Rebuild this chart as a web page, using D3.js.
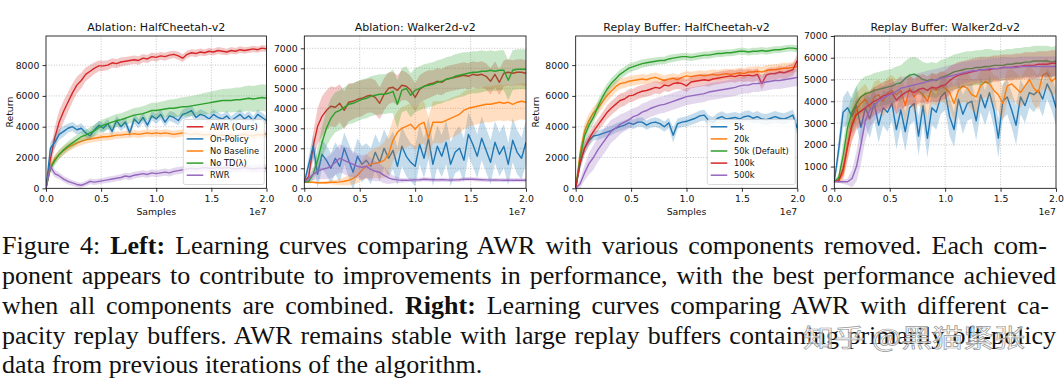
<!DOCTYPE html>
<html><head><meta charset="utf-8">
<script src="https://cdn.jsdelivr.net/npm/d3@7"></script>
<style>body{margin:0;background:#fff}svg{display:block}</style>
</head><body><svg id="c" width="1064" height="381"></svg>
<script>
// x positions in units of 1e7 samples
const samples = [0,0.04,0.08,0.12,0.16,0.2,0.24,0.28,0.32,0.36,0.4,0.44,0.48,0.52,0.56,0.6,0.64,0.68,0.72,0.76,0.8,0.84,0.88,0.92,0.96,1.0,1.04,1.08,1.12,1.16,1.2,1.24,1.28,1.32,1.36,1.4,1.44,1.48,1.52,1.56,1.6,1.64,1.68,1.72,1.76,1.8,1.84,1.88,1.92,1.96,2.0];
const xTickVals = [0, 0.5, 1.0, 1.5, 2.0];
const hcYTicks = [0, 2000, 4000, 6000, 8000];
const wkYTicks = [0, 1000, 2000, 3000, 4000, 5000, 6000, 7000];
const ablLabels = ['AWR (Ours)', 'On-Policy', 'No Baseline', 'No TD(\u03bb)', 'RWR'];
const rbLabels = ['5k', '20k', '50k (Default)', '100k', '500k'];
const titles = ['Ablation: HalfCheetah-v2', 'Ablation: Walker2d-v2', 'Replay Buffer: HalfCheetah-v2', 'Replay Buffer: Walker2d-v2'];

// ---- Ablation: HalfCheetah ----
const hcAblAWR = [0,1900,3300,4300,5000,5600,6200,6700,7000,7400,7600,7800,7950,7950,8000,8150,8100,8200,8250,8300,8350,8300,8450,8400,8550,8500,8600,8550,8650,8700,8600,8450,8700,8800,8750,8850,8800,8900,8850,8950,8900,8850,8950,8900,9000,8950,9000,9050,9000,9100,9050];
const hcAblAWRsd = [0,500,700,750,700,650,600,550,500,450,400,380,350,330,320,300,300,290,280,280,270,280,270,260,270,260,250,260,250,240,260,250,240,230,240,230,220,230,220,230,220,210,220,210,220,210,200,210,200,210,200];
const hcAblOnP = [0,2600,3000,3500,3700,3900,4000,3800,3900,3600,3400,3800,4100,3900,4200,3700,4400,4000,4300,3600,4500,4200,4600,4100,4700,4500,4800,4300,4700,4600,4400,4800,4900,5050,4600,4800,4700,4500,4800,4600,4500,4700,4400,4600,4800,4500,4700,4400,4800,4600,4400];
const hcAblOnPsd = [0,400,400,350,350,300,300,300,320,300,300,320,300,320,300,300,320,300,330,300,320,300,340,320,300,320,330,300,320,340,300,320,330,350,320,330,300,320,330,300,310,320,300,320,330,310,320,300,320,310,300];
const hcAblNoB = [0,1400,1900,2200,2450,2650,2800,2950,3050,3150,3200,3250,3300,3350,3350,3400,3450,3450,3500,3500,3550,3500,3550,3600,3550,3600,3550,3600,3550,3500,3550,3600,3550,3500,3550,3500,3450,3500,3450,3400,3450,3400,3450,3400,3450,3500,3450,3400,3500,3450,3550];
const hcAblNoBsd = [0,300,300,280,280,270,260,260,250,250,250,240,250,240,240,250,240,230,240,230,240,230,240,230,230,240,230,240,230,230,240,230,240,230,240,230,240,230,240,230,240,230,240,230,240,230,240,230,240,230,240];
const hcAblNoTD = [0,1300,1800,2200,2500,2750,2950,3150,3350,3450,3600,3750,3950,4100,4200,4300,4400,4450,4550,4650,4750,4800,4850,4950,5050,5050,5100,5150,5200,5200,5250,5300,5300,5350,5400,5450,5500,5550,5600,5650,5700,5700,5700,5750,5750,5800,5850,5800,5850,5900,5850];
const hcAblNoTDsd = [0,300,300,300,300,300,320,330,340,350,360,370,380,390,400,410,420,430,440,450,460,470,480,490,500,500,520,540,560,580,600,620,640,650,660,680,700,710,720,740,750,760,780,790,800,820,830,840,850,860,880];
const hcAblRWR = [0,1400,950,800,600,450,350,250,200,300,450,400,450,500,550,600,650,700,800,750,850,900,950,900,1000,950,1000,1050,1000,1100,1150,1200,1250,1300,1250,1300,1350,1300,1300,1350,1300,1350,1300,1250,1300,1350,1300,1250,1300,1300,1300];
const hcAblRWRsd = [0,300,250,220,200,200,180,180,160,170,180,180,190,190,200,200,200,210,210,220,220,220,220,230,230,230,230,230,240,240,240,240,240,240,240,250,250,250,250,250,250,250,250,250,250,250,250,250,250,250,250];

// ---- Ablation: Walker2d ----
const wkAblAWR = [300,600,2100,3100,3600,3900,4100,4050,4250,3900,4300,4350,4450,4500,4600,4650,4550,4250,4700,5000,5050,4900,5150,5100,4900,4550,4950,5100,5200,5250,5350,5300,5450,5500,5550,5600,5650,5600,5700,5650,5700,5600,5350,5700,5300,5750,5800,5750,5800,5800,5750];
const wkAblAWRsd = [0,300,700,900,1000,1000,1000,1000,950,950,950,900,900,900,850,850,850,800,800,800,750,750,750,700,700,700,700,700,700,650,650,650,650,650,650,650,650,650,650,650,650,650,650,650,650,650,650,650,650,650,650];
const wkAblOnP = [300,1200,2100,700,1700,1400,1000,1500,1100,2000,1400,800,1600,1200,1400,1100,1800,1300,2000,1500,1900,1100,2100,1600,1300,1100,2200,1500,2500,1200,2100,1600,2300,1200,1800,2000,1400,2700,2200,1600,2500,1900,1300,2300,1700,2100,1200,2400,1800,1500,2300];
const wkAblOnPsd = [0,400,600,700,750,750,750,800,800,800,850,900,900,900,850,900,900,950,950,950,950,950,1000,1000,950,1000,1000,1000,1050,1100,1050,1050,1100,1100,1050,1100,1100,1100,1100,1100,1100,1100,1100,1050,1100,1100,1050,1100,1100,1050,1100];
const wkAblNoB = [300,300,300,280,280,280,300,300,320,350,400,500,650,900,1100,1200,1250,1300,1400,1700,2400,2800,3000,3100,3200,2950,3200,3300,2500,3300,3300,3300,3400,3500,3600,3700,3900,4000,4050,4100,4150,4200,4200,4250,4300,4250,4300,4200,4300,4350,4300];
const wkAblNoBsd = [0,50,50,50,60,80,100,120,150,200,250,300,400,500,600,700,750,800,900,1000,1050,1050,1050,1050,1050,1050,1050,1050,1050,1050,1050,1050,1000,1000,1000,950,950,950,900,900,900,900,900,900,900,900,900,900,900,900,900];
const wkAblNoTD = [300,350,700,1400,2300,3000,3500,3800,3900,4050,4200,4250,4350,4450,4500,4600,4650,4700,4700,4750,4850,4200,4900,5000,4650,4900,5000,5100,5150,5200,5300,5350,5450,5500,5600,5650,5700,5750,5800,5800,5850,5850,5900,5850,5900,5900,5400,5900,5950,5950,5950];
const wkAblNoTDsd = [0,100,300,600,800,900,1000,1000,1000,1000,1000,1000,1000,1000,1000,1000,1000,1000,1000,1000,1100,1200,1100,1100,1100,1100,1100,1100,1100,1100,1100,1100,1100,1100,1100,1100,1100,1050,1050,1050,1050,1000,1000,1000,1000,1000,1000,1000,1000,1000,1000];
const wkAblRWR = [300,500,700,850,950,1000,1100,1300,1500,1400,1300,1200,1100,1050,1100,950,850,800,650,520,450,420,400,400,410,420,430,450,440,430,420,430,420,410,420,430,450,460,450,440,430,420,410,420,410,400,410,400,410,400,400];
const wkAblRWRsd = [0,150,300,400,500,550,600,650,700,700,700,650,600,600,600,550,500,450,400,300,200,150,120,100,100,100,100,100,100,100,100,100,100,100,100,100,100,100,100,100,100,100,100,100,100,100,100,100,100,100,100];

// ---- Replay buffer: HalfCheetah ----
const hcRb5k = [0,1600,2600,3100,3400,3450,3550,3650,3750,3900,4000,4100,4250,4150,4300,4300,4100,4250,4300,4200,4000,4250,3450,4200,4300,4350,4450,4550,4700,4750,4400,4300,4550,4650,4500,4550,4600,4500,4650,4700,4550,4650,4500,4450,4550,4650,4550,4500,4600,4750,3900];
const hcRb5ksd = [0,400,400,350,300,300,300,300,300,300,300,300,300,300,300,300,300,300,320,320,330,330,500,330,320,330,340,350,360,350,340,330,340,350,340,350,360,350,360,370,360,370,360,370,380,370,380,370,380,370,450];
const hcRb20k = [0,2300,3700,4400,4900,5200,5600,6000,6300,6600,6800,6850,6950,7000,7050,7100,7050,7150,7200,7100,7000,7100,7150,7050,7200,7300,7250,7300,7350,7300,7350,7400,7350,7400,7450,7400,7450,7500,7450,7550,7550,7600,7550,7650,7700,7700,7750,7800,7800,7850,7900];
const hcRb20ksd = [0,500,500,450,400,400,400,400,380,360,350,340,330,320,320,320,320,320,320,320,320,320,320,320,320,320,320,320,320,320,320,330,330,330,330,330,330,330,340,340,340,340,340,340,340,350,350,350,350,350,350];
const hcRb50k = [0,2000,3400,4100,4600,5300,5900,6400,6800,7100,7400,7600,7800,7900,8000,8100,8150,8200,8250,8300,8300,8400,8450,8500,8550,8550,8500,8550,8600,8650,8650,8700,8750,8750,8800,8800,8850,8900,8900,8850,8900,8900,8950,8900,8950,9000,9000,9050,9100,9100,9050];
const hcRb50ksd = [0,500,500,450,400,400,380,360,340,320,300,300,290,280,280,270,260,260,250,250,250,250,250,240,240,240,240,230,230,230,230,230,230,230,220,220,220,220,220,220,220,220,220,220,220,220,220,220,220,220,220];
const hcRb100k = [0,1700,2600,3200,3700,4100,4500,4900,5200,5450,5700,5800,6000,6050,6200,6300,6350,6450,6550,6500,6700,6650,6800,6850,6800,6650,6900,6950,7000,7050,7000,7100,7150,7200,7250,7300,7250,7350,7300,7350,7300,7400,6800,7350,7450,7450,7550,7500,7600,7700,8300];
const hcRb100ksd = [0,400,400,400,400,400,420,440,450,450,450,440,430,420,420,410,400,400,400,400,400,400,400,400,400,400,400,400,400,400,400,400,400,400,400,400,400,400,400,400,400,400,400,400,400,400,400,400,400,400,400];
const hcRb500k = [0,300,1000,1600,2000,2500,2900,3300,3700,3900,4150,4300,4450,4650,4750,4950,5050,5200,5300,5400,5450,5550,5650,5750,5850,5950,6000,6050,6100,6150,6250,6300,6350,6400,6450,6500,6550,6650,6700,6700,6800,6800,6850,6900,6950,7000,7000,7050,7100,7150,7200];
const hcRb500ksd = [0,300,500,700,800,800,800,800,750,700,650,600,600,550,550,550,550,550,550,550,550,550,550,550,550,550,550,550,550,550,550,550,550,550,550,550,550,550,550,550,550,550,550,550,550,550,550,550,550,550,550];

// ---- Replay buffer: Walker2d ----
const wkRb5k = [300,1800,3500,3700,3300,3800,2800,3700,3200,3900,2900,3700,3500,3900,2700,3600,2600,3700,3900,2400,3800,2300,3700,3500,4200,4400,3300,2700,4100,3400,3900,4000,3100,4300,3700,4400,3600,2300,4000,4200,3600,2900,4200,3800,4400,4300,4500,4100,4800,4400,3700];
const wkRb5ksd = [0,500,700,800,800,900,800,800,900,800,800,800,900,800,900,800,900,800,800,900,800,900,800,800,800,800,900,800,800,900,800,800,900,800,800,800,800,900,800,800,800,900,800,800,700,800,700,800,700,800,800];
const wkRb20k = [300,350,700,2000,3000,3600,3900,4100,3700,4200,4300,4000,4400,4500,4300,4500,3800,4600,4200,4500,4300,4000,4600,4500,4700,4600,4400,3900,4500,4700,4600,4300,4200,4700,4900,4800,4500,4300,3900,4700,4800,4600,4400,4700,5000,4600,4400,5200,5300,4900,5100];
const wkRb20ksd = [0,100,400,700,800,800,700,700,700,700,700,700,700,700,700,700,800,700,700,700,700,800,700,700,700,700,700,800,700,700,700,700,800,700,700,700,700,800,800,700,700,700,700,700,700,800,800,700,700,700,700];
const wkRb50k = [300,500,1500,2800,3500,3900,4200,4350,4400,4500,4550,4600,4650,4700,4800,4850,5050,5200,5250,5150,5000,4950,5000,4950,5100,5150,5250,5350,5400,5450,5500,5500,5550,5550,5600,5600,5650,5650,5650,5700,5700,5750,5750,5800,5800,5850,5850,5850,5850,5800,5850];
const wkRb50ksd = [0,200,600,800,800,800,800,800,800,800,800,800,800,800,800,800,800,800,800,800,800,800,800,800,800,800,800,800,800,800,800,800,800,800,800,800,700,700,700,700,700,700,700,700,700,700,700,700,700,700,700];
const wkRb100k = [300,350,900,1900,2900,3400,3550,3700,3850,4000,4100,4250,4300,4400,4050,4250,4400,4500,4400,4550,4600,4500,4650,4600,4700,4750,4950,5100,5200,5250,5300,5350,5400,5450,5450,5450,5500,5500,5550,5550,5550,5600,5600,5650,5650,5650,5700,5700,5700,5750,5750];
const wkRb100ksd = [0,100,400,600,700,700,700,650,650,650,650,650,650,650,650,650,650,650,650,650,650,650,650,650,650,650,650,600,600,600,600,600,600,600,600,600,600,600,600,600,600,600,600,600,600,600,600,600,600,600,600];
const wkRb500k = [300,300,300,300,450,1000,2000,3100,3600,3800,4000,4150,4250,4350,4450,4600,4650,4700,4750,4800,4850,4900,4950,5000,5050,5100,5150,5200,5250,5300,5350,5400,5400,5450,5450,5500,5500,5500,5550,5550,5550,5550,5600,5600,5600,5600,5600,5600,5600,5600,5600];
const wkRb500ksd = [0,50,100,150,400,700,900,900,800,700,600,550,500,500,500,500,500,500,500,500,500,500,500,500,500,500,500,500,500,500,480,480,480,480,480,480,480,480,480,480,460,460,460,460,460,460,460,460,460,460,460];

const ablColors = ['#d62728', '#1f77b4', '#ff7f0e', '#2ca02c', '#9467bd'];
const rbColors = ['#1f77b4', '#ff7f0e', '#2ca02c', '#d62728', '#9467bd'];

const panels = [
  {title: titles[0], x0: 46, x1: 266.5, yMax: 9890, yTicks: hcYTicks,
   means: [hcAblAWR, hcAblOnP, hcAblNoB, hcAblNoTD, hcAblRWR],
   sds: [hcAblAWRsd, hcAblOnPsd, hcAblNoBsd, hcAblNoTDsd, hcAblRWRsd],
   colors: ablColors, labels: ablLabels, legend: {x: 183.3, w: 81}, xlabel: true, ylabelX: 9},
  {title: titles[1], x0: 304.3, x1: 526, yMax: 7615, yTicks: wkYTicks,
   means: [wkAblAWR, wkAblOnP, wkAblNoB, wkAblNoTD, wkAblRWR],
   sds: [wkAblAWRsd, wkAblOnPsd, wkAblNoBsd, wkAblNoTDsd, wkAblRWRsd],
   colors: ablColors, labels: null, xlabel: false, ylabelX: null},
  {title: titles[2], x0: 575.7, x1: 797.3, yMax: 9890, yTicks: hcYTicks,
   means: [hcRb5k, hcRb20k, hcRb50k, hcRb100k, hcRb500k],
   sds: [hcRb5ksd, hcRb20ksd, hcRb50ksd, hcRb100ksd, hcRb500ksd],
   colors: rbColors, labels: rbLabels, legend: {x: 707.3, w: 88}, xlabel: true, ylabelX: 535.5},
  {title: titles[3], x0: 834.3, x1: 1056, yMax: 7000, yTicks: wkYTicks,
   means: [wkRb5k, wkRb20k, wkRb50k, wkRb100k, wkRb500k],
   sds: [wkRb5ksd, wkRb20ksd, wkRb50ksd, wkRb100ksd, wkRb500ksd],
   colors: rbColors, labels: null, xlabel: false, ylabelX: null}
];

const TOP = 36, BOTTOM = 188.3;
const SANS = "'DejaVu Sans', sans-serif";
const svg = d3.select('#c');
svg.append('rect').attr('width', 1064).attr('height', 381).attr('fill', '#fff');

panels.forEach((p, pi) => {
  const x = d3.scaleLinear().domain([0, 2]).range([p.x0, p.x1]);
  const y = d3.scaleLinear().domain([0, p.yMax]).range([BOTTOM, TOP]);
  const g = svg.append('g');
  const clipId = 'clip' + pi;
  svg.append('clipPath').attr('id', clipId).append('rect')
    .attr('x', p.x0).attr('y', TOP).attr('width', p.x1 - p.x0).attr('height', BOTTOM - TOP);

  // grid
  g.append('g').selectAll('line').data(xTickVals.slice(1, -1)).join('line')
    .attr('x1', d => x(d)).attr('x2', d => x(d)).attr('y1', TOP).attr('y2', BOTTOM)
    .attr('stroke', '#b8b8b8').attr('stroke-width', 0.8).attr('stroke-dasharray', '1,1.6');
  g.append('g').selectAll('line').data(p.yTicks.slice(1)).join('line')
    .attr('x1', p.x0).attr('x2', p.x1).attr('y1', d => y(d)).attr('y2', d => y(d))
    .attr('stroke', '#b8b8b8').attr('stroke-width', 0.8).attr('stroke-dasharray', '1,1.6');

  const plot = g.append('g').attr('clip-path', `url(#${clipId})`);
  p.means.forEach((m, si) => {
    const sd = p.sds[si];
    const area = d3.area().x((d, i) => x(samples[i]))
      .y0((d, i) => y(m[i] - sd[i])).y1((d, i) => y(m[i] + sd[i]));
    plot.append('path').datum(m).attr('d', area)
      .attr('fill', p.colors[si]).attr('fill-opacity', 0.26).attr('stroke', 'none');
    plot.append('path').datum(m)
      .attr('d', d3.line().x((d, i) => x(samples[i])).y(d => y(d)))
      .attr('fill', 'none').attr('stroke', p.colors[si]).attr('stroke-width', 1.4)
      .attr('stroke-linejoin', 'round');
  });

  // frame
  g.append('rect').attr('x', p.x0).attr('y', TOP).attr('width', p.x1 - p.x0).attr('height', BOTTOM - TOP)
    .attr('fill', 'none').attr('stroke', '#000').attr('stroke-width', 0.8);

  // axes
  const ax = g.append('g').attr('transform', `translate(0,${BOTTOM})`)
    .call(d3.axisBottom(x).tickValues(xTickVals).tickFormat(d => d.toFixed(1)).tickSize(3.5).tickPadding(3.2));
  const ay = g.append('g').attr('transform', `translate(${p.x0},0)`)
    .call(d3.axisLeft(y).tickValues(p.yTicks).tickFormat(d3.format('d')).tickSize(3.5).tickPadding(3.2));
  [ax, ay].forEach(a => {
    a.select('.domain').remove();
    a.selectAll('line').attr('stroke', '#000').attr('stroke-width', 0.8);
    a.selectAll('text').attr('font-family', SANS).attr('font-size', 9.3).attr('fill', '#111');
  });

  // title
  g.append('text').attr('x', (p.x0 + p.x1) / 2).attr('y', 31.3).attr('text-anchor', 'middle')
    .attr('font-family', SANS).attr('font-size', 11).attr('fill', '#111').text(p.title);
  // offset text
  g.append('text').attr('x', p.x1).attr('y', 215).attr('text-anchor', 'end')
    .attr('font-family', SANS).attr('font-size', 9.3).attr('fill', '#111').text('1e7');
  if (p.xlabel) {
    g.append('text').attr('x', (p.x0 + p.x1) / 2).attr('y', 215).attr('text-anchor', 'middle')
      .attr('font-family', SANS).attr('font-size', 9.3).attr('fill', '#111').text('Samples');
  }
  if (p.ylabelX !== null) {
    g.append('text').attr('transform', `translate(${p.ylabelX},${(TOP + BOTTOM) / 2}) rotate(-90)`)
      .attr('text-anchor', 'middle').attr('dominant-baseline', 'central')
      .attr('font-family', SANS).attr('font-size', 9.3).attr('fill', '#111').text('Return');
  }

  // legend
  if (p.labels) {
    const L = p.legend;
    const top = 119.5, h = 65, rowH = 12.1;
    const lg = g.append('g');
    lg.append('rect').attr('x', L.x).attr('y', top).attr('width', L.w).attr('height', h)
      .attr('rx', 2).attr('fill', '#fff').attr('fill-opacity', 0.8)
      .attr('stroke', '#d0d0d0').attr('stroke-width', 0.8);
    p.labels.forEach((lab, i) => {
      const cy = top + 7.3 + rowH * i;
      lg.append('line').attr('x1', L.x + 3.4).attr('x2', L.x + 20).attr('y1', cy).attr('y2', cy)
        .attr('stroke', p.colors[i]).attr('stroke-width', 1.5);
      lg.append('text').attr('x', L.x + 26.7).attr('y', cy).attr('dominant-baseline', 'central')
        .attr('font-family', SANS).attr('font-size', 8.3).attr('fill', '#111').text(lab);
    });
  }
});

// caption
const SERIF = "'Liberation Serif', 'Times New Roman', serif";
const captionLines = [
  {parts: [['Figure 4: ', false], ['Left:', true], [' Learning curves comparing AWR with various components removed. Each com-', false]], width: 1045},
  {parts: [['ponent appears to contribute to improvements in performance, with the best performance achieved', false]], width: 1054},
  {parts: [['when all components are combined. ', false], ['Right:', true], [' Learning curves comparing AWR with different ca-', false]], width: 1047},
  {parts: [['pacity replay buffers. AWR remains stable with large replay buffers containing primarily off-policy', false]], width: 1054},
  {parts: [['data from previous iterations of the algorithm.', false]], width: null}
];
const baselines = [254.3, 284.2, 314.1, 344, 373.3];
captionLines.forEach((ln, i) => {
  const t = svg.append('text').attr('x', 2).attr('y', baselines[i])
    .attr('font-family', SERIF).attr('font-size', 26).attr('fill', '#111')
    .attr('xml:space', 'preserve');
  ln.parts.forEach(([s, b]) => {
    t.append('tspan').attr('font-weight', b ? 'bold' : 'normal').text(s);
  });
  if (ln.width) {
    const nat = t.node().getComputedTextLength();
    const spaces = (t.text().match(/ /g) || []).length;
    t.style('word-spacing', ((ln.width - nat) / spaces) + 'px');
  }
});

// watermark
svg.append('text').attr('x', 803).attr('y', 347)
  .attr('font-family', "'Noto Sans CJK SC', sans-serif").attr('font-size', 25)
  .attr('textLength', 222).attr('lengthAdjust', 'spacingAndGlyphs')
  .attr('fill', '#fff').attr('fill-opacity', 0.7)
  .attr('stroke', '#9a9a9a').attr('stroke-width', 0.7)
  .text('知乎 @黑猫紧张');
</script>
</body></html>
